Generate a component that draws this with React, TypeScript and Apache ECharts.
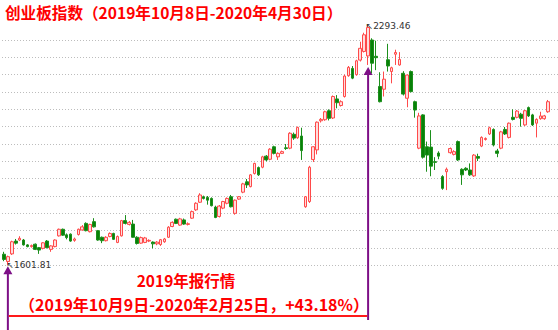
import { useEffect, useRef } from 'react';
import * as echarts from 'echarts';

// Trading days, 2019-10-08 .. 2020-04-30
const dates: string[] = [
  '2019-10-08','2019-10-09','2019-10-10','2019-10-11','2019-10-14','2019-10-15','2019-10-16','2019-10-17','2019-10-18',
  '2019-10-21','2019-10-22','2019-10-23','2019-10-24','2019-10-25','2019-10-28','2019-10-29','2019-10-30','2019-10-31',
  '2019-11-01','2019-11-04','2019-11-05','2019-11-06','2019-11-07','2019-11-08','2019-11-11','2019-11-12','2019-11-13',
  '2019-11-14','2019-11-15','2019-11-18','2019-11-19','2019-11-20','2019-11-21','2019-11-22','2019-11-25','2019-11-26',
  '2019-11-27','2019-11-28','2019-11-29',
  '2019-12-02','2019-12-03','2019-12-04','2019-12-05','2019-12-06','2019-12-09','2019-12-10','2019-12-11','2019-12-12',
  '2019-12-13','2019-12-16','2019-12-17','2019-12-18','2019-12-19','2019-12-20','2019-12-23','2019-12-24','2019-12-25',
  '2019-12-26','2019-12-27','2019-12-30','2019-12-31',
  '2020-01-02','2020-01-03','2020-01-06','2020-01-07','2020-01-08','2020-01-09','2020-01-10','2020-01-13','2020-01-14',
  '2020-01-15','2020-01-16','2020-01-17','2020-01-20','2020-01-21','2020-01-22','2020-01-23',
  '2020-02-03','2020-02-04','2020-02-05','2020-02-06','2020-02-07','2020-02-10','2020-02-11','2020-02-12','2020-02-13',
  '2020-02-14','2020-02-17','2020-02-18','2020-02-19','2020-02-20','2020-02-21','2020-02-24','2020-02-25','2020-02-26',
  '2020-02-27','2020-02-28',
  '2020-03-02','2020-03-03','2020-03-04','2020-03-05','2020-03-06','2020-03-09','2020-03-10','2020-03-11','2020-03-12',
  '2020-03-13','2020-03-16','2020-03-17','2020-03-18','2020-03-19','2020-03-20','2020-03-23','2020-03-24','2020-03-25',
  '2020-03-26','2020-03-27','2020-03-30','2020-03-31',
  '2020-04-01','2020-04-02','2020-04-03','2020-04-07','2020-04-08','2020-04-09','2020-04-10','2020-04-13','2020-04-14',
  '2020-04-15','2020-04-16','2020-04-17','2020-04-20','2020-04-21','2020-04-22','2020-04-23','2020-04-24','2020-04-27',
  '2020-04-28','2020-04-29','2020-04-30',
];

// [open, close, low, high]
const kline: number[][] = [
  [1632,1617,1612,1639],[1611,1625,1601.81,1628],[1633,1668,1630,1671],[1670,1664,1660,1676],[1673,1678,1670,1684],
  [1673,1659,1657,1676],[1659,1654,1652,1661],[1654,1657,1651,1660],[1661,1646,1644,1663],[1651,1644,1633,1653],
  [1649,1665,1646,1667],[1670,1651,1649,1673],[1646,1656,1639,1658],[1654,1673,1652,1675],[1685,1704,1683,1706],
  [1704,1687,1685,1706],[1688,1680,1675,1692],[1690,1670,1668,1692],[1672,1676,1668,1680],[1689,1704,1686,1706],
  [1702,1711,1700,1716],[1721,1700,1698,1724],[1697,1718,1695,1720],[1726,1711,1709,1736],[1700,1673,1671,1702],
  [1681,1671,1664,1683],[1671,1681,1669,1684],[1683,1692,1681,1695],[1692,1675,1673,1694],[1666,1683,1664,1686],
  [1685,1729,1683,1731],[1729,1721,1718,1745],[1718,1724,1715,1728],[1719,1681,1680,1731],[1681,1663,1660,1684],
  [1664,1680,1662,1683],[1666,1679,1664,1682],[1670,1672,1667,1675],[1667,1662,1649,1669],[1662,1667,1658,1670],
  [1660,1674,1656,1676],[1668,1676,1665,1679],[1681,1710,1679,1713],[1712,1724,1710,1727],[1733,1721,1719,1735],
  [1716,1734,1714,1737],[1731,1719,1717,1735],[1718,1720,1715,1724],[1736,1755,1734,1758],[1760,1779,1757,1782],
  [1782,1803,1780,1808],[1798,1793,1790,1801],[1796,1788,1775,1800],[1793,1772,1770,1796],[1768,1738,1736,1772],
  [1741,1771,1738,1774],[1765,1784,1762,1786],[1779,1793,1776,1796],[1798,1769,1767,1803],[1750,1788,1746,1790],
  [1791,1798,1789,1800],[1811,1835,1808,1838],[1841,1832,1823,1849],[1827,1861,1825,1863],[1865,1894,1862,1896],
  [1882,1861,1858,1885],[1883,1913,1880,1916],[1915,1904,1900,1918],[1906,1935,1903,1938],[1942,1923,1920,1945],
  [1913,1923,1904,1926],[1923,1928,1921,1931],[1939,1937,1933,1950],[1938,1981,1935,1984],[1978,1967,1962,1983],
  [1968,1998,1965,2000],[1973,1931,1904,1997],[1769,1798,1766,1800],[1784,1883,1780,1887],[1905,1942,1898,1944],
  [1933,2013,1920,2015],[2017,2021,2012,2025],[2020,2043,2017,2046],[2046,2024,2018,2050],[2025,2087,2022,2090],
  [2080,2069,2053,2091],[2061,2072,2058,2076],[2087,2146,2084,2150],[2147,2171,2144,2175],[2168,2140,2137,2175],
  [2150,2190,2147,2193],[2192,2226,2188,2245],[2217,2265,2214,2271],[2204,2286,2178,2293.46],[2250,2183,2154,2255],
  [2203,2199,2163,2248],[2116,2072,2070,2157],[2108,2137,2087,2159],[2193,2175,2159,2239],[2159,2170,2125,2173],
  [2209,2214,2178,2222],[2178,2194,2176,2215],[2154,2094,2090,2160],[2082,2149,2056,2150],[2159,2101,2099,2162],
  [2072,2048,2026,2075],[1938,2031,1935,2040],[2034,1912,1908,2036],[1942,1918,1870,1957],[1941,1886,1857,1990],
  [1899,1897,1875,1912],[1924,1915,1906,1929],[1856,1822,1818,1860],[1870,1877,1817,1882],[1925,1937,1922,1940],
  [1920,1928,1917,1932],[1957,1904,1901,1960],[1877,1861,1832,1880],[1880,1875,1872,1883],[1875,1861,1858,1894],
  [1858,1918,1855,1921],[1914,1909,1901,1922],[1944,1969,1941,1972],[1963,1966,1960,1969],[1979,1997,1976,2000],
  [1992,1947,1943,1995],[1930,1923,1912,1936],[1938,1985,1935,1988],[1992,1979,1976,1999],[1969,2010,1966,2012],
  [2027,2021,2018,2050],[2027,2045,2024,2048],[2036,2024,2000,2040],[2005,2046,2002,2048],[2055,2031,2028,2058],
  [2034,2005,2002,2037],[2010,2021,1969,2024],[2023,2031,2020,2043],[2023,2031,2020,2034],[2043,2072,2040,2077],
];

const titleText = '创业板指数（2019年10月8日-2020年4月30日）';
const noteTitle = '2019年报行情';
const noteDetail = '（2019年10月9日-2020年2月25日，+43.18%）';
const startIndex = 1;   // 2019-10-09
const peakIndex = 93;   // 2020-02-25
const highValue = 2293.46;
const lowValue = 1601.81;

const W = 558;
const H = 330;

export default function App() {
  const ref = useRef<HTMLDivElement>(null);
  useEffect(() => {
    if (!ref.current) return;
    const chart = echarts.init(ref.current, undefined, { renderer: 'svg', width: W, height: H });
    const cjk = '"Noto Sans CJK SC", "Noto Sans", sans-serif';
    chart.setOption({
      animation: false,
      backgroundColor: '#ffffff',
      grid: { left: 2, right: 0, top: 22.67, bottom: 64.67, containLabel: false },
      xAxis: {
        type: 'category',
        data: dates,
        max: dates.length + 1,
        boundaryGap: true,
        axisLine: { show: false },
        axisTick: { show: false },
        axisLabel: { show: false },
        splitLine: { show: false },
      },
      yAxis: {
        type: 'value',
        min: 1600,
        max: 2300,
        interval: 50,
        axisLine: { show: false },
        axisTick: { show: false },
        axisLabel: { show: false },
        splitLine: {
          show: true,
          showMaxLine: false,
          lineStyle: { type: [1, 2], color: '#bdbdbd', width: 1 },
        },
      },
      series: [
        {
          type: 'candlestick',
          data: kline,
          barWidth: 3.2,
          itemStyle: {
            color: '#ffdcdc',
            borderColor: '#ff4a4a',
            color0: '#078107',
            borderColor0: '#1c8f1c',
            borderWidth: 1,
          },
          markPoint: {
            symbol: 'circle',
            symbolSize: 1,
            itemStyle: { color: 'rgba(0,0,0,0)' },
            data: [
              {
                coord: [dates[peakIndex], highValue],
                label: {
                  show: true,
                  formatter: '↖' + highValue.toFixed(2),
                  position: [-2, 2],
                  align: 'left',
                  verticalAlign: 'middle',
                  fontSize: 9,
                  color: '#333',
                  fontFamily: 'DejaVu Sans, sans-serif',
                },
              },
              {
                coord: [dates[startIndex], lowValue],
                label: {
                  show: true,
                  formatter: '↖' + lowValue.toFixed(2),
                  position: [-1, 1],
                  align: 'left',
                  verticalAlign: 'middle',
                  fontSize: 9,
                  color: '#333',
                  fontFamily: 'DejaVu Sans, sans-serif',
                },
              },
            ],
          },
        },
      ],
    });

    const p1 = chart.convertToPixel({ gridIndex: 0 }, [dates[startIndex], kline[startIndex][2]]) as number[];
    const p2 = chart.convertToPixel({ gridIndex: 0 }, [dates[peakIndex], kline[peakIndex][2]]) as number[];
    const purple = '#7d0f86';
    const red = '#ff1a1a';
    const arrow = (x: number, tipY: number) => ({
      type: 'polygon',
      shape: { points: [[x, tipY], [x - 4.5, tipY + 8], [x + 4.5, tipY + 8]] },
      style: { fill: purple },
    });
    chart.setOption({
      graphic: [
        {
          type: 'text', left: 5, top: 4,
          style: { text: titleText, fill: '#ff0000', font: `bold 15.6px ${cjk}` },
        },
        {
          type: 'line',
          shape: { x1: p1[0], y1: H, x2: p1[0], y2: p1[1] + 6 },
          style: { stroke: purple, lineWidth: 2 },
        },
        arrow(p1[0], p1[1] + 1.5),
        {
          type: 'line',
          shape: { x1: p2[0], y1: 320, x2: p2[0], y2: p2[1] + 8 },
          style: { stroke: purple, lineWidth: 2 },
        },
        arrow(p2[0], p2[1] + 2),
        {
          type: 'line',
          shape: { x1: p1[0] + 1, y1: 316, x2: p2[0] - 1, y2: 316 },
          style: { stroke: red, lineWidth: 2 },
        },
        {
          type: 'text', x: 186, y: 280,
          style: { text: noteTitle, fill: '#ff0000', font: `bold 15.5px ${cjk}`, align: 'center', verticalAlign: 'middle' },
        },
        {
          type: 'text', x: 194, y: 304,
          style: { text: noteDetail, fill: '#ff0000', font: `bold 16px ${cjk}`, align: 'center', verticalAlign: 'middle' },
        },
      ],
    });
    return () => chart.dispose();
  }, []);
  return <div ref={ref} style={{ position: 'fixed', left: 0, top: 0, width: W, height: H }} />;
}
